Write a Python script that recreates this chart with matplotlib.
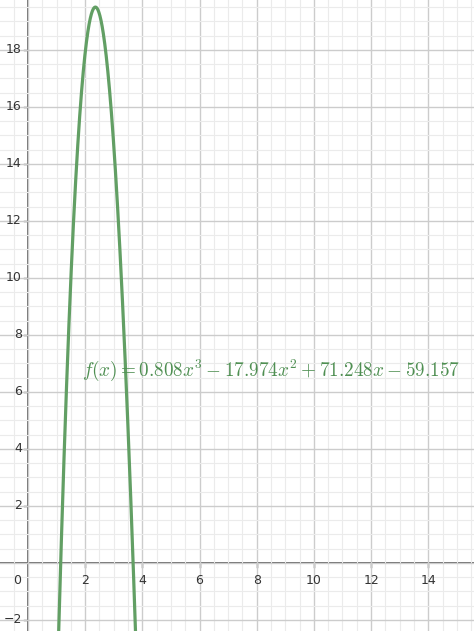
import numpy as np
import matplotlib
matplotlib.use("Agg")
import matplotlib.pyplot as plt
from matplotlib.ticker import MultipleLocator

plt.rcParams["mathtext.fontset"] = "cm"

# Data
coeffs = [0.808, -17.974, 71.248, -59.157]   # cubic, quadratic, linear, constant
x_ticks = [2, 4, 6, 8, 10, 12, 14]
y_ticks = [-2, 2, 4, 6, 8, 10, 12, 14, 16, 18]
label = r"$f(x) = 0.808x^3 - 17.974x^2 + 71.248x - 59.157$"

xmin, xmax = -0.98, 15.6
ymin, ymax = -2.39, 19.75

fig = plt.figure(figsize=(4.74, 6.31), dpi=100)
ax = fig.add_axes([0, 0, 1, 1])
ax.set_xlim(xmin, xmax)
ax.set_ylim(ymin, ymax)
for s in ax.spines.values():
    s.set_visible(False)

ax.xaxis.set_major_locator(MultipleLocator(2))
ax.yaxis.set_major_locator(MultipleLocator(2))
ax.xaxis.set_minor_locator(MultipleLocator(0.5))
ax.yaxis.set_minor_locator(MultipleLocator(0.5))
ax.grid(which="minor", color="#ebebeb", lw=0.8, zorder=0)
ax.grid(which="major", color="#cccccc", lw=1.0, zorder=0)
ax.tick_params(which="both", length=0, labelbottom=False, labelleft=False)

ax.axhline(0, color="#505050", lw=1.2, zorder=1)
ax.axvline(0, color="#505050", lw=1.2, zorder=1)

tick_color = "#333333"
for t in x_ticks:
    ax.plot([t, t], [0, -0.13], color="#505050", lw=1.0, zorder=1)
    ax.annotate(str(t), xy=(t, 0), xytext=(0, -8), textcoords="offset points",
                ha="center", va="top", fontsize=9, color=tick_color)
for t in y_ticks:
    ax.plot([0, -0.13], [t, t], color="#505050", lw=1.0, zorder=1)
    ax.annotate(str(t).replace("-", "\u2212"), xy=(0, t), xytext=(-4.5, 0),
                textcoords="offset points", ha="right", va="center",
                fontsize=9, color=tick_color)
ax.annotate("0", xy=(0, 0), xytext=(-5, -8), textcoords="offset points",
            ha="right", va="top", fontsize=9, color=tick_color)

x = np.linspace(xmin, xmax, 3000)
y = np.polyval(coeffs, x)
ax.plot(x, y, color="#629f64", lw=2.3, zorder=3, solid_capstyle="round")

ax.text(1.88, 6.75, label, fontsize=13.8, color="#4f8f52", ha="left",
        va="center", zorder=4)

fig.savefig("out.png", dpi=100)
